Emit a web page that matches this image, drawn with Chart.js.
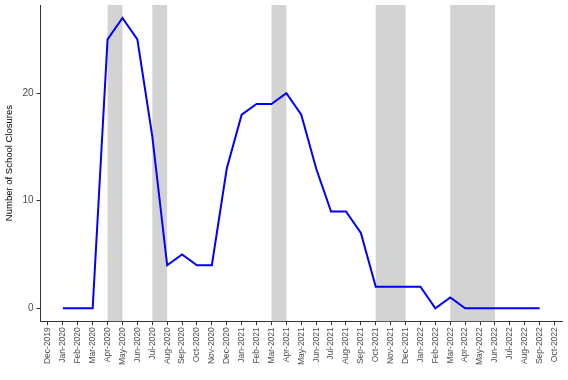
<!DOCTYPE html>
<html><head><meta charset="utf-8">
<script src="https://cdn.jsdelivr.net/npm/chart.js@4"></script>
<style>html,body{margin:0;padding:0;background:#fff}#wrap{width:568px;height:380px}</style>
</head><body><div id="wrap"><canvas id="c"></canvas></div>
<script>
const months = ["Dec-2019","Jan-2020","Feb-2020","Mar-2020","Apr-2020","May-2020","Jun-2020","Jul-2020","Aug-2020","Sep-2020","Oct-2020","Nov-2020","Dec-2020","Jan-2021","Feb-2021","Mar-2021","Apr-2021","May-2021","Jun-2021","Jul-2021","Aug-2021","Sep-2021","Oct-2021","Nov-2021","Dec-2021","Jan-2022","Feb-2022","Mar-2022","Apr-2022","May-2022","Jun-2022","Jul-2022","Aug-2022","Sep-2022","Oct-2022"];
const closures = [null,0,0,0,25,27,25,16,4,5,4,4,13,18,19,19,20,18,13,9,9,7,2,2,2,2,0,1,0,0,0,0,0,0,null];
const bandStarts = ["Apr-2020","Jul-2020","Mar-2021","Oct-2021","Mar-2022"];
const bandEnds   = ["May-2020","Aug-2020","Apr-2021","Dec-2021","Jun-2022"];
const yTickValues = [0,10,20];

const bandPlugin = {
  id:'bands',
  beforeDatasetsDraw(chart){
    const {ctx, chartArea:a, scales:{x}} = chart;
    ctx.save();
    ctx.fillStyle = '#d3d3d3';
    bandStarts.forEach((s,i)=>{
      const x0 = x.getPixelForValue(months.indexOf(s));
      const x1 = x.getPixelForValue(months.indexOf(bandEnds[i]));
      ctx.fillRect(x0, a.top, x1-x0, a.bottom-a.top);
    });
    ctx.restore();
  }
};

const fam = "'Liberation Sans', Arial, sans-serif";
new Chart(document.getElementById('c'), {
  type:'line',
  data:{labels:months, datasets:[{data:closures, borderColor:'#0000ff', borderWidth:2, pointRadius:0, tension:0, spanGaps:false}]},
  plugins:[bandPlugin],
  options:{
    responsive:true, maintainAspectRatio:false, animation:false,
    layout:{padding:{top:5,right:6,bottom:13,left:4}},
    plugins:{legend:{display:false}, tooltip:{enabled:false}},
    scales:{
      x:{
        offset:true,
        grid:{drawOnChartArea:false, drawTicks:true, tickLength:4, color:'#333'},
        border:{display:true, color:'#333', width:1},
        ticks:{autoSkip:false, maxRotation:90, minRotation:90, color:'#4d4d4d', padding:2, font:{family:fam, size:8.5}}
      },
      y:{
        min:-1.2, max:28.2,
        afterBuildTicks(axis){ axis.ticks = yTickValues.map(v=>({value:v})); },
        afterFit(axis){ axis.paddingTop = 0; axis.paddingBottom = 0; },
        grid:{drawOnChartArea:false, drawTicks:true, tickLength:4, color:'#333'},
        border:{display:true, color:'#333', width:1},
        ticks:{color:'#4d4d4d', padding:3, font:{family:fam, size:10}},
        title:{display:true, text:'Number of School Closures', color:'#000', padding:{top:0,bottom:4}, font:{family:fam, size:9.5}}
      }
    }
  }
});
</script></body></html>
